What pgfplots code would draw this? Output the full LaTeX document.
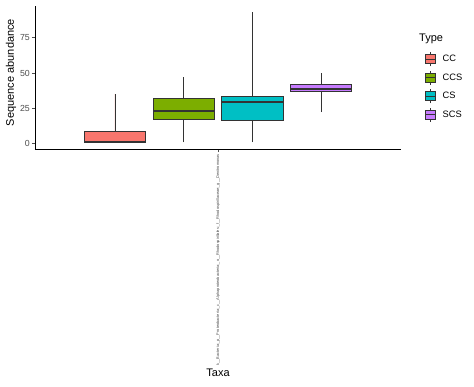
\documentclass[border=0pt]{standalone}
\usepackage{pgfplots}
\pgfplotsset{compat=1.18}
\usepgfplotslibrary{statistics}
\usepackage{fontspec}
\setmainfont{Liberation Sans}
\definecolor{cCC}{HTML}{F8766D}
\definecolor{cCCS}{HTML}{7CAE00}
\definecolor{cCS}{HTML}{00BFC4}
\definecolor{cSCS}{HTML}{C77CFF}
\definecolor{tickgray}{HTML}{4D4D4D}
\definecolor{boxline}{HTML}{333333}
\newcommand{\legbox}[1]{%
  \draw[boxline, line width=0.7pt] (5pt,-7pt) -- (5pt,7pt);
  \draw[draw=boxline, line width=0.7pt, fill=#1] (0pt,-4.5pt) rectangle (10pt,4.5pt);
  \draw[boxline, line width=1.1pt] (0pt,0pt) -- (10pt,0pt);
  \path (16pt,0pt);
}
\begin{document}
\begin{tikzpicture}
\path[use as bounding box] (0,0) rectangle (474pt,386pt);
\begin{axis}[
  at={(35pt,237pt)}, anchor=south west,
  scale only axis, width=366pt, height=143pt,
  xmin=-2.664, xmax=2.664, ymin=-3.75, ymax=97.5,
  axis lines=left, axis line style={-, line width=0.9pt, black},
  xtick={0}, xticklabels={{k\_\_Bacteria;\_p\_\_Proteobacteria;\_c\_\_Alphaproteobacteria;\_o\_\_Rhodospirillales;\_f\_\_Rhodospirillaceae;\_g\_\_Denitromonas}},
  xticklabel style={rotate=90, anchor=east, font=\fontsize{3.9}{4}\selectfont, text=tickgray, inner sep=2pt},
  ytick={0,25,50,75},
  yticklabel style={font=\fontsize{8.8}{10}\selectfont, text=tickgray, inner sep=2pt},
  /pgf/number format/assume math mode=true,
  tick align=outside, major tick length=3pt,
  tick style={line width=0.7pt, tickgray},
  xlabel={Taxa}, ylabel={Sequence abundance},
  label style={font=\fontsize{11}{13}\selectfont},
  xlabel style={inner sep=1pt},
  ylabel style={at={(axis description cs:-0.0656,0.535)}, anchor=center},
  boxplot/draw direction=y,
  boxplot/whisker extend=0,
  boxplot/box extend=0.895,
  boxplot/every median/.style={line width=1.8pt, draw=boxline},
  boxplot/every whisker/.style={line width=0.8pt, draw=boxline},
  boxplot/every box/.style={line width=0.8pt, draw=boxline},
  clip=false,
  legend style={at={(axis description cs:1.065,0.68)}, anchor=north west, draw=none, fill=none,
    font=\fontsize{9.3}{10}\selectfont, row sep=3.8pt, inner sep=0pt,
    nodes={inner sep=1pt}},
  legend cell align=left,
]
\addplot+[forget plot, fill=cCC, draw=boxline, mark=none, solid,
  boxplot prepared={draw position=-1.5, lower whisker=0.5, lower quartile=1.0, median=1.4, upper quartile=9.0, upper whisker=35.2}]
  coordinates {};
\addplot+[forget plot, fill=cCCS, draw=boxline, mark=none, solid,
  boxplot prepared={draw position=-0.5, lower whisker=1.0, lower quartile=17.5, median=23.1, upper quartile=31.9, upper whisker=47.0}]
  coordinates {};
\addplot+[forget plot, fill=cCS, draw=boxline, mark=none, solid,
  boxplot prepared={draw position=0.5, lower whisker=1.0, lower quartile=16.8, median=29.3, upper quartile=33.3, upper whisker=93.0}]
  coordinates {};
\addplot+[forget plot, fill=cSCS, draw=boxline, mark=none, solid,
  boxplot prepared={draw position=1.5, lower whisker=22.2, lower quartile=36.8, median=38.9, upper quartile=41.8, upper whisker=49.8}]
  coordinates {};
\addlegendimage{legend image code/.code={\legbox{cCC}}}
\addlegendentry{CC}
\addlegendimage{legend image code/.code={\legbox{cCCS}}}
\addlegendentry{CCS}
\addlegendimage{legend image code/.code={\legbox{cCS}}}
\addlegendentry{CS}
\addlegendimage{legend image code/.code={\legbox{cSCS}}}
\addlegendentry{SCS}
\node[anchor=west, font=\fontsize{11}{13}\selectfont, inner sep=0pt] at (axis description cs:1.049,0.769) {Type};
\end{axis}
\end{tikzpicture}
\end{document}
